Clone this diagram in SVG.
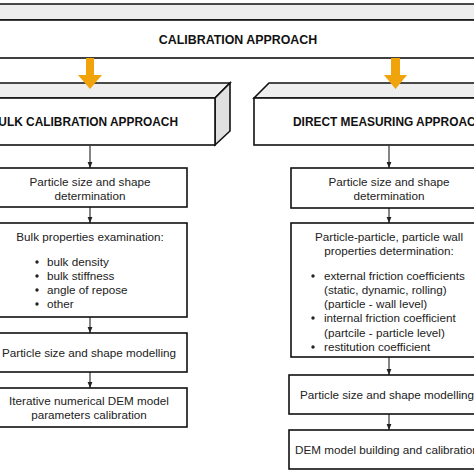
<svg xmlns="http://www.w3.org/2000/svg" width="474" height="474" viewBox="0 0 474 474">
<defs>
<marker id="ah" viewBox="0 0 10 10" refX="10" refY="5" markerWidth="6" markerHeight="6" orient="auto" markerUnits="userSpaceOnUse"><path d="M0,1 L10,5 L0,9 Z" fill="#222"/></marker>
<style>
.box{fill:#fff;stroke:#111;stroke-width:1.6}
.top{fill:#eeeeee;stroke:#111;stroke-width:1.6}
.side{fill:#e0e0e0;stroke:#111;stroke-width:1.6}
.t{font-family:"Liberation Sans",Arial,sans-serif;font-size:11.7px;fill:#222}
.h{font-family:"Liberation Sans",Arial,sans-serif;font-size:12.4px;font-weight:bold;fill:#111}
.hs{font-family:"Liberation Sans",Arial,sans-serif;font-size:11.9px;font-weight:bold;fill:#111}
.c{text-anchor:middle}
.con{stroke:#333;stroke-width:1.2;fill:none;marker-end:url(#ah)}
.orange{fill:#f0a30a}
</style>
</defs>
<rect width="474" height="474" fill="#fff"/>
<g id="calibration-approach">
<polygon class="top" points="-20,4 494,4 494,20 -20,20"/>
<rect class="box" x="-20" y="20" width="514" height="38"/>
<text class="h c" x="238" y="44">CALIBRATION APPROACH</text>
</g>
<g id="bulk-approach">
<polygon class="top" points="-20,83 230,83 215,98 -20,98"/>
<polygon class="side" points="215,98 230,83 230,131 215,145"/>
<rect class="box" x="-20" y="98" width="235" height="47"/>
<text class="hs" x="178" y="126" text-anchor="end">BULK CALIBRATION APPROACH</text>
</g>
<g id="direct-approach">
<polygon class="top" points="254,98 269,83 494,83 494,98"/>
<rect class="box" x="254" y="98" width="240" height="47"/>
<text class="hs" x="293" y="126">DIRECT MEASURING APPROACH</text>
</g>
<g id="orange-arrows">
<path class="orange" d="M86,58 H94 V75 H102 L90,89 L78,75 H86 Z"/>
<path class="orange" d="M391,58 H400 V75 H407 L395.5,89 L384,75 H391 Z"/>
</g>
<g id="connectors">
<line class="con" x1="90" y1="145" x2="90" y2="168"/>
<line class="con" x1="90" y1="207" x2="90" y2="223"/>
<line class="con" x1="90" y1="317" x2="90" y2="333"/>
<line class="con" x1="90" y1="372" x2="90" y2="388"/>
<line class="con" x1="389" y1="145" x2="389" y2="168"/>
<line class="con" x1="389" y1="208" x2="389" y2="223"/>
<line class="con" x1="389" y1="357" x2="389" y2="375"/>
<line class="con" x1="389" y1="414" x2="389" y2="430"/>
</g>
<g id="bulk-size-shape">
<rect class="box" x="-7" y="168" width="194" height="39"/>
<text class="t c" x="90" y="186">Particle size and shape</text>
<text class="t c" x="90" y="200">determination</text>
</g>
<g id="bulk-properties">
<rect class="box" x="-7" y="223" width="194" height="94"/>
<text class="t c" x="90" y="241">Bulk properties examination:</text>
<circle cx="37" cy="262" r="1.7" fill="#222"/><text class="t" x="47" y="266">bulk density</text>
<circle cx="37" cy="276" r="1.7" fill="#222"/><text class="t" x="47" y="280">bulk stiffness</text>
<circle cx="37" cy="290" r="1.7" fill="#222"/><text class="t" x="47" y="294">angle of repose</text>
<circle cx="37" cy="304" r="1.7" fill="#222"/><text class="t" x="47" y="308">other</text>
</g>
<g id="bulk-modelling">
<rect class="box" x="-7" y="333" width="194" height="39"/>
<text class="t c" x="89" y="357">Particle size and shape modelling</text>
</g>
<g id="bulk-iterative">
<rect class="box" x="-7" y="388" width="194" height="39"/>
<text class="t c" x="89" y="405">Iterative numerical DEM model</text>
<text class="t c" x="89" y="419">parameters calibration</text>
</g>
<g id="direct-size-shape">
<rect class="box" x="291" y="168" width="196" height="40"/>
<text class="t c" x="389" y="186">Particle size and shape</text>
<text class="t c" x="389" y="200">determination</text>
</g>
<g id="direct-properties">
<rect class="box" x="291" y="223" width="196" height="134"/>
<text class="t c" x="389" y="241">Particle-particle, particle wall</text>
<text class="t c" x="389" y="255">properties determination:</text>
<circle cx="313" cy="276" r="1.7" fill="#222"/><text class="t" x="324" y="280">external friction coefficients</text>
<text class="t" x="324" y="294">(static, dynamic, rolling)</text>
<text class="t" x="324" y="308">(particle - wall level)</text>
<circle cx="313" cy="318" r="1.7" fill="#222"/><text class="t" x="324" y="322">internal friction coefficient</text>
<text class="t" x="324" y="337">(partcile - particle level)</text>
<circle cx="313" cy="347" r="1.7" fill="#222"/><text class="t" x="324" y="351">restitution coefficient</text>
</g>
<g id="direct-modelling">
<rect class="box" x="289" y="375" width="198" height="39"/>
<text class="t" x="300" y="399">Particle size and shape modelling</text>
</g>
<g id="direct-dem">
<rect class="box" x="289" y="430" width="198" height="39"/>
<text class="t" x="295" y="454">DEM model building and calibration</text>
</g>
</svg>
